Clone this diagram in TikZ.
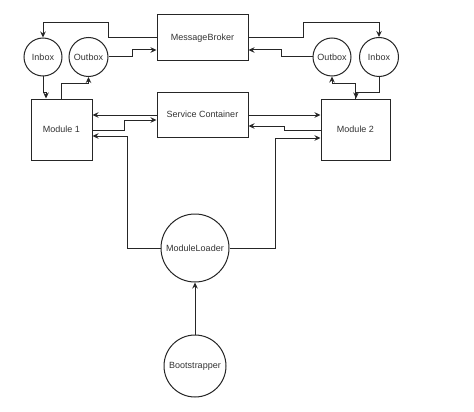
\documentclass[tikz,border=0pt]{standalone}
\usepackage{fontspec}
\setmainfont{Liberation Sans}
\usetikzlibrary{arrows.meta}
\begin{document}
\begin{tikzpicture}[x=1pt,y=-1pt,
  every node/.style={font=\fontsize{9}{10}\selectfont, text=black!80},
  box/.style={draw=black!85, line width=1pt, rectangle, inner sep=0pt},
  circ/.style={draw=black!85, line width=1pt, circle, inner sep=0pt},
  arr/.style={draw=black!85, line width=1pt, -{Stealth[length=6pt,width=5.5pt]}},
  ln/.style={draw=black!85, line width=1pt}]
\useasboundingbox[fill=white] (0,0) rectangle (474,412);
% nodes
\node[box, minimum width=91pt, minimum height=46pt] (mb) at (202.5,38) {MessageBroker};
\node[box, minimum width=91pt, minimum height=45pt] (sc) at (202.5,114.5) {Service Container};
\node[box, minimum width=61pt, minimum height=61pt] (m1) at (61.5,129.5) {Module 1};
\node[box, minimum width=69pt, minimum height=61pt] (m2) at (355.5,129.5) {Module 2};
\node[circ, minimum size=38pt] (inL) at (43,57) {Inbox};
\node[circ, minimum size=39pt] (outL) at (88.5,57) {Outbox};
\node[circ, minimum size=38pt] (outR) at (332,57) {Outbox};
\node[circ, minimum size=39pt] (inR) at (379,57) {Inbox};
\node[circ, minimum size=68pt] (ml) at (195,248) {ModuleLoader};
\node[circ, minimum size=62pt] (bs) at (195,366) {Bootstrapper};
% left connectors
\draw[arr] (mb.west) -- (108,38) -- (108,23) -| (inL.north);
\draw[arr] (outL.east) -- (132,57) -- (132,50) -- (mb.west |- 0,50);
\draw[arr] (inL.south) -- (43,92) -- (46,92) -- (m1.north -| 46,0);
\draw[arr] (m1.north -| 61,0) -- (61,84) -| (outL.south);
\draw[arr] (sc.west |- 0,115) -- (m1.east |- 0,115);
\draw[arr] (m1.east |- 0,130) -- (124,130) -- (124,120) -- (sc.west |- 0,120);
\draw[arr] (ml.west) -- (127,248) -- (127,136) -- (m1.east |- 0,136);
% right connectors
\draw[arr] (mb.east) -- (303,38) -- (303,23) -| (inR.north);
\draw[arr] (outR.west) -- (281,57) -- (281,50) -- (mb.east |- 0,50);
\draw[arr] (inR.south) -- (379,92) -- (356,92) -- (m2.north -| 356,0);
\draw[arr] (m2.north -| 355,0) -- (355,84) -| (outR.south);
\draw[arr] (sc.east |- 0,115) -- (m2.west |- 0,115);
\draw[arr] (m2.west |- 0,130) -- (284,130) -- (284,126) -- (sc.east |- 0,126);
\draw[arr] (ml.east) -- (275,248) -- (275,138) -- (m2.west |- 0,138);
% bottom
\draw[arr] (bs) -- (ml);
\end{tikzpicture}
\end{document}
